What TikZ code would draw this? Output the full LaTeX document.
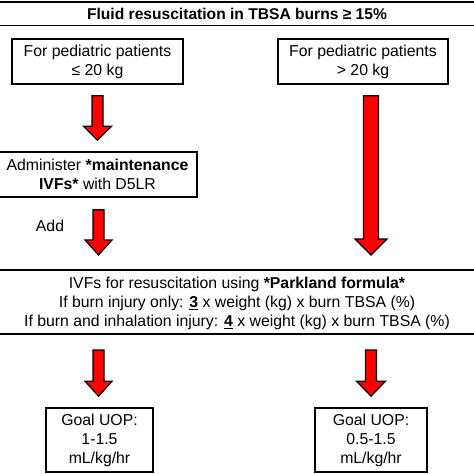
\documentclass[tikz,border=0pt]{standalone}
\usepackage{fontspec}
\setmainfont{Liberation Sans}
\usetikzlibrary{calc}
\tikzset{every picture/.style = {x=1pt, y=-1pt}}
\tikzset{box/.style = {draw, line width=1.6pt, align=center, inner sep=0,
    font=\fontsize{15.8}{19}\selectfont}}
\tikzset{band/.style = {draw, line width=1.8pt}}
\tikzset{blk/.style = {draw, line width=1.2pt, fill=red, line join=miter}}
% block arrow: top point, tip point, half shaft, half head, head length
\newcommand\blockarrow[5]{%
  \draw[blk] ($(#1)+(-#3,0)$) -- ($(#2)+(-#3,-#5)$) -- ($(#2)+(-#4,-#5)$)
    -- (#2) -- ($(#2)+(#4,-#5)$) -- ($(#2)+(#3,-#5)$) -- ($(#1)+(#3,0)$) -- cycle;}

\begin{document}
\begin{tikzpicture}
  \useasboundingbox (0, 0) rectangle (474, 474);
  % bands across the page
  \draw[band] (-5, 2) rectangle (479, 25.5);
  \node[font=\bfseries\fontsize{15.6}{19}\selectfont] (title) at (237, 14)
    {Fluid resuscitation in TBSA burns ≥ 15\%};
  \draw[band] (-5, 270) rectangle (479, 334);
  \node[align=center, font=\fontsize{15.8}{19}\selectfont] (park) at (237, 303.5)
    {IVFs for resuscitation using \textbf{*Parkland formula*}\\
     If burn injury only: \underline{\textbf{3}} x weight (kg) x burn TBSA (\%)\\
     If burn and inhalation injury: \underline{\textbf{4}} x weight (kg) x burn TBSA (\%)};
  \coordinate (parktop) at (237, 270);
  \coordinate (parkbot) at (237, 334);
  % boxes
  \node[box, minimum width=171, minimum height=45] (small) at (97.5, 61.5)
    {For pediatric patients\\≤ 20 kg};
  \node[box, minimum width=170, minimum height=45] (big) at (363, 61.5)
    {For pediatric patients\\> 20 kg};
  \node[box, minimum width=199, minimum height=45] (maint) at (97.5, 174.5)
    {Administer \textbf{*maintenance}\\\textbf{IVFs*} with D5LR};
  \node[font=\fontsize{15.8}{19}\selectfont] (add) at (50, 226) {Add};
  \node[box, minimum width=107, minimum height=64] (goalsmall) at (99.5, 440)
    {Goal UOP:\\1-1.5\\mL/kg/hr};
  \node[box, minimum width=112, minimum height=64] (goalbig) at (371, 440)
    {Goal UOP:\\0.5-1.5\\mL/kg/hr};
  % arrows
  \coordinate (a1) at ($(small.south)+(0, 11)$);
  \coordinate (b1) at ($(maint.north)+(0, -11)$);
  \coordinate (a2) at ($(maint.south -| goalsmall.north)+(-1, 12)$);
  \coordinate (b2) at ($(parktop -| goalsmall.north)+(-1, -15)$);
  \coordinate (a3) at ($(big.south -| goalbig.north)+(0, 11)$);
  \coordinate (b3) at ($(parktop -| goalbig.north)+(0, -15)$);
  \coordinate (a4) at ($(parkbot -| goalsmall.north)+(-1, 16)$);
  \coordinate (b4) at ($(goalsmall.north)+(-1, -11)$);
  \coordinate (a5) at ($(parkbot -| goalbig.north)+(0, 16)$);
  \coordinate (b5) at ($(goalbig.north)+(0, -11)$);
  \blockarrow{a1}{b1}{5.5}{14}{14}
  \blockarrow{a2}{b2}{5.5}{13.5}{15}
  \blockarrow{a3}{b3}{7.5}{16}{16}
  \blockarrow{a4}{b4}{5.5}{13.5}{15}
  \blockarrow{a5}{b5}{5.5}{14.5}{15}
\end{tikzpicture}
\end{document}
